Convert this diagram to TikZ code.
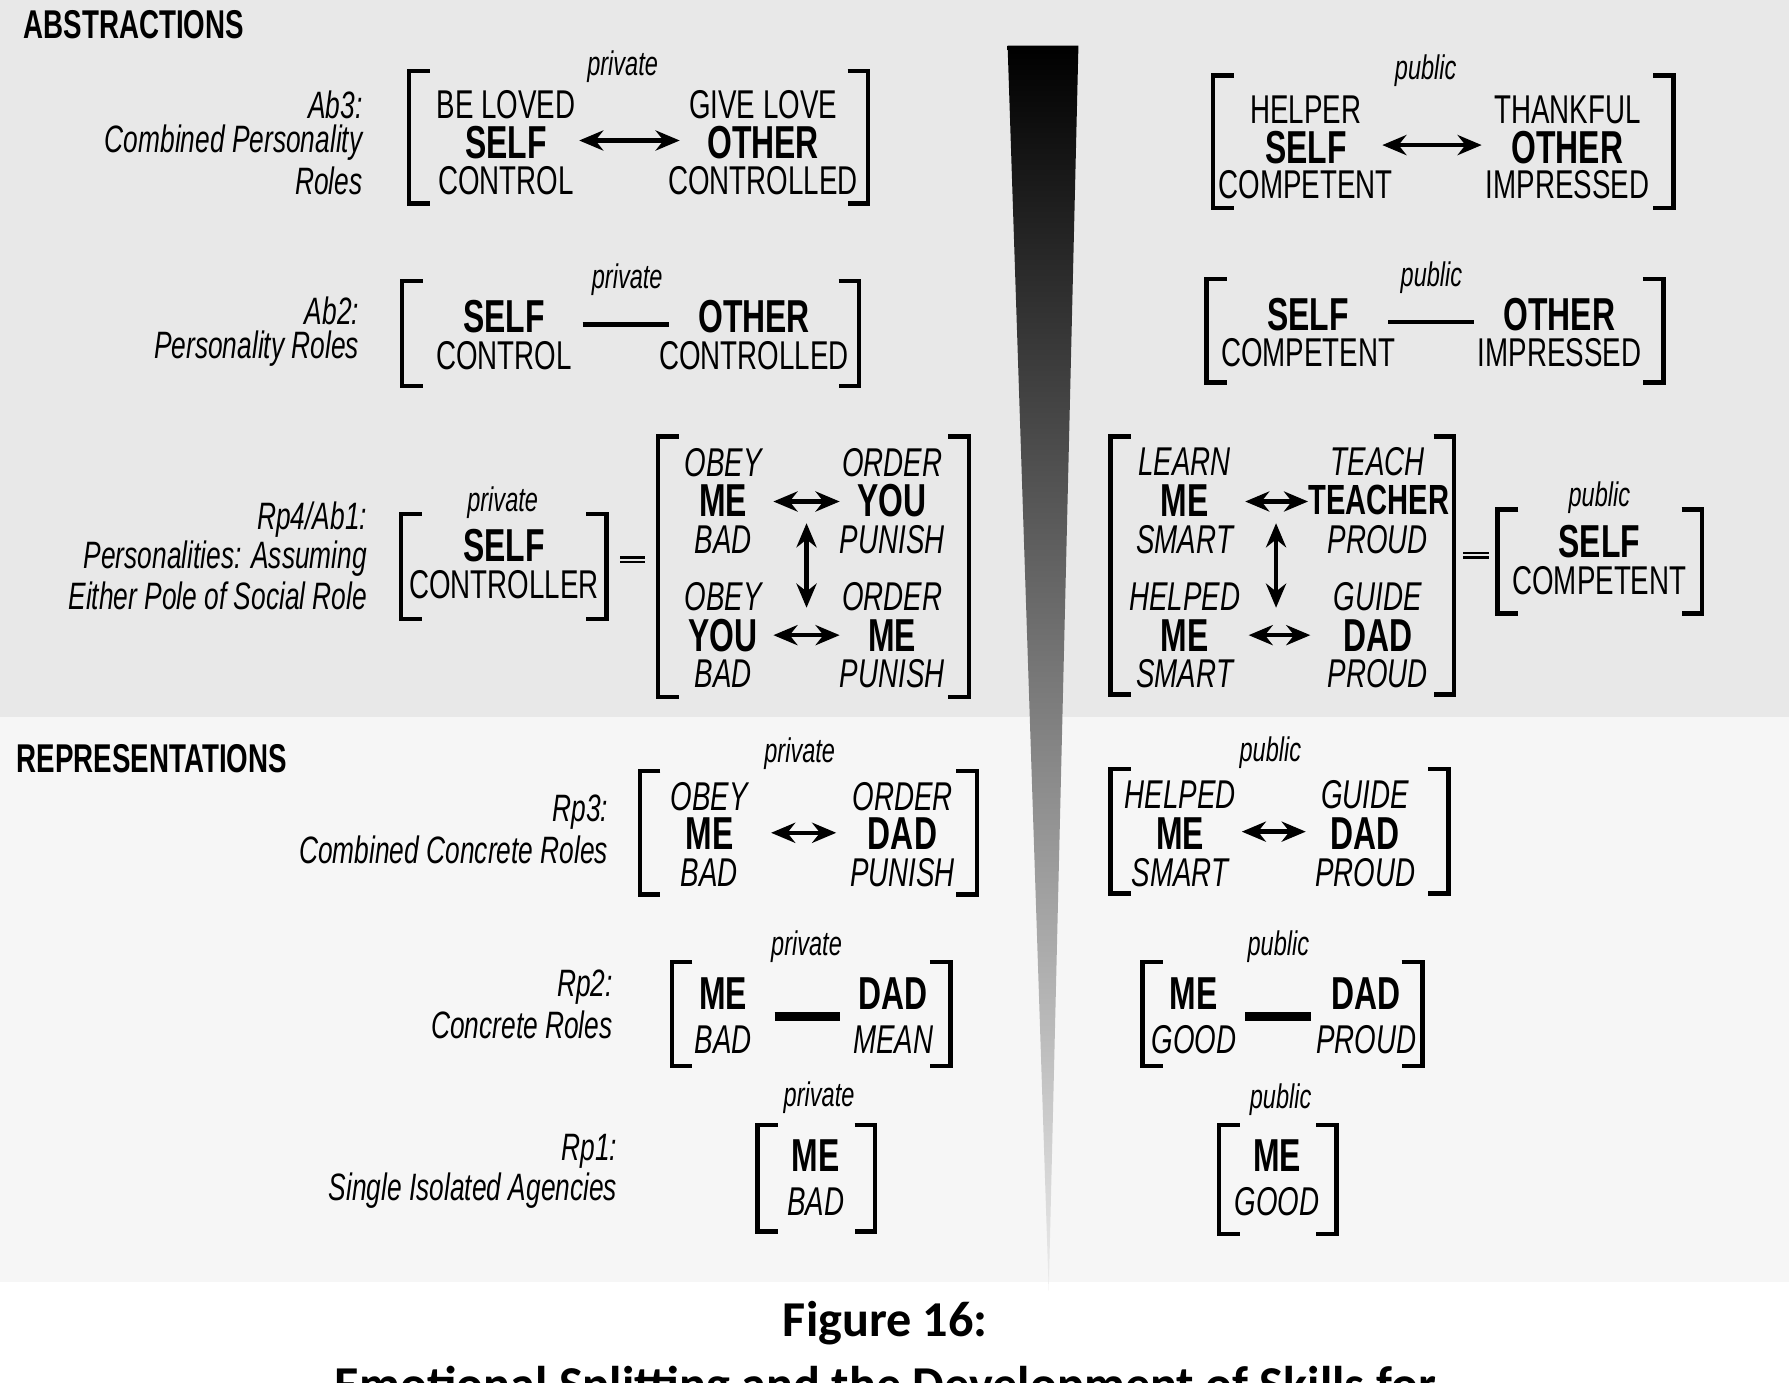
\documentclass[tikz,border=0pt]{standalone}
\usepackage{fontspec}
\setmainfont[FakeStretch=0.69]{Liberation Sans}
\newfontfamily\capfont{Carlito}
\usetikzlibrary{arrows.meta}
\tikzset{
 rg/.style={font=\fontsize{10}{10}\selectfont, inner sep=0pt},
 bd/.style={font=\fontsize{11.5}{11.5}\selectfont\bfseries, inner sep=0pt},
 it/.style={font=\fontsize{10}{10}\selectfont\itshape, inner sep=0pt},
 sm/.style={font=\fontsize{8.5}{8.5}\selectfont\itshape, inner sep=0pt},
 lab/.style={font=\fontsize{9.5}{9.5}\selectfont\itshape, inner sep=0pt, anchor=east},
 head/.style={font=\fontsize{10}{10}\selectfont\bfseries, inner sep=0pt, anchor=west},
 br/.style={line width=1.1pt},
 dar/.style={line width=1.1pt, {Stealth[length=6pt,width=5pt]}-{Stealth[length=6pt,width=5pt]}},
}
\newcommand\brk[4]{\draw[br] ({#1+18},#3) -- (#1,#3) -- (#1,#4) -- ({#1+18},#4);
 \draw[br] ({#2-18},#3) -- (#2,#3) -- (#2,#4) -- ({#2-18},#4);}
\newcommand\eqs[2]{\draw[line width=0.6pt] (#1,{#2-2}) -- ({#1+22},{#2-2}) (#1,{#2+2}) -- ({#1+22},{#2+2});}
\begin{document}
\begin{tikzpicture}[x=0.01cm,y=-0.01cm]
\useasboundingbox (0,0) rectangle (1566,1210);
\clip (0,0) rectangle (1566,1210);
\fill[gray!18] (0,0) rectangle (1566,628);
\fill[gray!7] (0,628) rectangle (1566,1122);
\shade[top color=black, bottom color=gray!15] (882,40) -- (944,40) -- (918,1130) -- cycle;
\node[head] (hA) at (20,22) {ABSTRACTIONS};
\node[head] (hR) at (14,664) {REPRESENTATIONS};
% Ab3
\node[lab] (l31) at (318,92) {Ab3:};
\node[lab] (l32) at (318,125) {Combined Personality};
\node[lab] (l33) at (318,158) {Roles};
\brk{358}{760}{62}{178}
\node[sm] (p3) at (545,58) {private};
\node[rg] (a1) at (443,92) {BE LOVED};
\node[bd] (a2) at (443,125) {SELF};
\node[rg] (a3) at (443,158) {CONTROL};
\node[rg] (a4) at (668,92) {GIVE LOVE};
\node[bd] (a5) at (668,125) {OTHER};
\node[rg] (a6) at (668,158) {CONTROLLED};
\coordinate (c1) at (507,123); \coordinate (c2) at (595,123); \draw[dar] (c1) -- (c2);
\brk{1062}{1465}{66}{182}
\node[sm] (q3) at (1248,62) {public};
\node[rg] (b1) at (1143,96) {HELPER};
\node[bd] (b2) at (1143,129) {SELF};
\node[rg] (b3) at (1143,162) {COMPETENT};
\node[rg] (b4) at (1372,96) {THANKFUL};
\node[bd] (b5) at (1372,129) {OTHER};
\node[rg] (b6) at (1372,162) {IMPRESSED};
\coordinate (d1) at (1210,127); \coordinate (d2) at (1297,127); \draw[dar] (d1) -- (d2);
% Ab2
\node[lab] (l21) at (315,272) {Ab2:};
\node[lab] (l22) at (315,305) {Personality Roles};
\brk{352}{752}{246}{338}
\node[sm] (p2) at (549,245) {private};
\node[bd] (e1) at (441,277) {SELF};
\node[rg] (e2) at (441,311) {CONTROL};
\node[bd] (e3) at (660,277) {OTHER};
\node[rg] (e4) at (660,311) {CONTROLLED};
\coordinate (e5) at (510,284); \coordinate (e6) at (586,284); \draw[br] (e5) -- (e6);
\brk{1056}{1456}{244}{335}
\node[sm] (q2) at (1253,243) {public};
\node[bd] (f1) at (1145,275) {SELF};
\node[rg] (f2) at (1145,309) {COMPETENT};
\node[bd] (f3) at (1365,275) {OTHER};
\node[rg] (f4) at (1365,309) {IMPRESSED};
\coordinate (f5) at (1215,282); \coordinate (f6) at (1290,282); \draw[br] (f5) -- (f6);
% Rp4/Ab1
\node[lab] (l41) at (322,455) {Rp4/Ab1:};
\node[lab] (l42) at (322,489) {Personalities: Assuming};
\node[lab] (l43) at (322,522) {Either Pole of Social Role};
\brk{351}{531}{450}{542}
\node[sm] (p4) at (440,440) {private};
\node[bd] (g1) at (441,478) {SELF};
\node[rg] (g2) at (441,512) {CONTROLLER};
\eqs{543}{490}
\brk{576}{848}{382}{610}
\node[it] (h1) at (633,405) {OBEY};
\node[bd] (h2) at (633,438) {ME};
\node[it] (h3) at (633,472) {BAD};
\node[it] (h4) at (633,522) {OBEY};
\node[bd] (h5) at (633,556) {YOU};
\node[it] (h6) at (633,590) {BAD};
\node[it] (h7) at (781,405) {ORDER};
\node[bd] (h8) at (781,438) {YOU};
\node[it] (h9) at (781,472) {PUNISH};
\node[it] (h10) at (781,522) {ORDER};
\node[bd] (h11) at (781,556) {ME};
\node[it] (h12) at (781,590) {PUNISH};
\draw[dar] (677,439) -- (735,439);
\draw[dar] (677,556) -- (735,556);
\draw[dar] (706,458) -- (706,532);
\brk{972}{1273}{382}{608}
\node[it] (k1) at (1037,404) {LEARN};
\node[bd] (k2) at (1037,438) {ME};
\node[it] (k3) at (1037,472) {SMART};
\node[it] (k4) at (1037,522) {HELPED};
\node[bd] (k5) at (1037,556) {ME};
\node[it] (k6) at (1037,590) {SMART};
\node[it] (k7) at (1206,404) {TEACH};
\node[bd,font=\fontsize{10.5}{10.5}\selectfont\bfseries] (k8) at (1207,438) {TEACHER};
\node[it] (k9) at (1206,472) {PROUD};
\node[it] (k10) at (1206,522) {GUIDE};
\node[bd] (k11) at (1206,556) {DAD};
\node[it] (k12) at (1206,590) {PROUD};
\draw[dar] (1090,439) -- (1145,439);
\draw[dar] (1093,556) -- (1147,556);
\draw[dar] (1117,458) -- (1117,532);
\eqs{1281}{486}
\brk{1311}{1490}{446}{537}
\node[sm] (q4) at (1400,436) {public};
\node[bd] (m1) at (1400,474) {SELF};
\node[rg] (m2) at (1400,508) {COMPETENT};
% Rp3
\node[lab] (l31r) at (533,711) {Rp3:};
\node[lab] (l32r) at (533,744) {Combined Concrete Roles};
\brk{560}{855}{675}{783}
\node[sm] (p5) at (700,660) {private};
\node[it] (n1) at (621,697) {OBEY};
\node[bd] (n2) at (621,730) {ME};
\node[it] (n3) at (621,764) {BAD};
\node[it] (n4) at (790,697) {ORDER};
\node[bd] (n5) at (790,730) {DAD};
\node[it] (n6) at (790,764) {PUNISH};
\draw[dar] (675,729) -- (732,729);
\brk{972}{1268}{673}{782}
\node[sm] (q5) at (1112,659) {public};
\node[it] (o1) at (1033,696) {HELPED};
\node[bd] (o2) at (1033,730) {ME};
\node[it] (o3) at (1033,764) {SMART};
\node[it] (o4) at (1195,696) {GUIDE};
\node[bd] (o5) at (1195,730) {DAD};
\node[it] (o6) at (1195,764) {PROUD};
\draw[dar] (1087,728) -- (1143,728);
% Rp2
\node[lab] (l21r) at (537,864) {Rp2:};
\node[lab] (l22r) at (537,897) {Concrete Roles};
\brk{588}{832}{842}{933}
\node[sm] (p6) at (706,829) {private};
\node[bd] (r1) at (633,870) {ME};
\node[it] (r2) at (633,910) {BAD};
\node[bd] (r3) at (782,870) {DAD};
\node[it] (r4) at (782,910) {MEAN};
\draw[line width=2.2pt] (678,890) -- (735,890);
\brk{1000}{1245}{842}{933}
\node[sm] (q6) at (1119,829) {public};
\node[bd] (s1) at (1045,870) {ME};
\node[it] (s2) at (1045,910) {GOOD};
\node[bd] (s3) at (1196,870) {DAD};
\node[it] (s4) at (1196,910) {PROUD};
\draw[line width=2.2pt] (1090,890) -- (1148,890);
% Rp1
\node[lab] (l11) at (541,1008) {Rp1:};
\node[lab] (l12) at (541,1042) {Single Isolated Agencies};
\brk{663}{766}{985}{1078}
\node[sm] (p7) at (717,961) {private};
\node[bd] (t1) at (714,1012) {ME};
\node[it] (t2) at (714,1052) {BAD};
\brk{1067}{1170}{985}{1080}
\node[sm] (q7) at (1121,963) {public};
\node[bd] (u1) at (1118,1012) {ME};
\node[it] (u2) at (1118,1052) {GOOD};
% caption
\node[font=\capfont\fontsize{12.5}{12.5}\selectfont\bfseries, inner sep=0pt] (cap1) at (775,1158) {Figure 16:};
\node[font=\capfont\fontsize{12.5}{12.5}\selectfont\bfseries, inner sep=0pt] (cap2) at (775,1215) {Emotional Splitting and the Development of Skills for};
\end{tikzpicture}
\end{document}
